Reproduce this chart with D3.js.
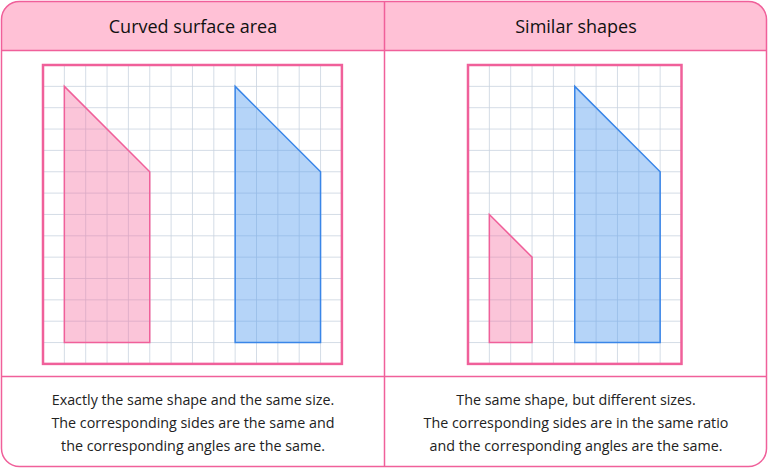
<!DOCTYPE html>
<html><head><meta charset="utf-8">
<script src="https://cdn.jsdelivr.net/npm/d3@7"></script>
<style>body{margin:0;background:#fff}svg{display:block;font-family:"Open Sans","Noto Sans",sans-serif}</style>
</head><body><svg id="c" width="768" height="469"></svg>
<script>
// panel titles and captions
const titles = ['Curved surface area', 'Similar shapes'];
const captions = [
  ['Exactly the same shape and the same size.', 'The corresponding sides are the same and', 'the corresponding angles are the same.'],
  ['The same shape, but different sizes.', 'The corresponding sides are in the same ratio', 'and the corresponding angles are the same.']
];
// grid size per panel (cols, rows)
const gridCols = [14, 10];
const gridRows = 14;
// shapes in grid units: [x,y] vertices
const shapes = [
  [{color: 'pink', pts: [[1,1],[5,5],[5,13],[1,13]]},
   {color: 'blue', pts: [[9,1],[13,5],[13,13],[9,13]]}],
  [{color: 'pink', pts: [[1,7],[3,9],[3,13],[1,13]]},
   {color: 'blue', pts: [[5,1],[9,5],[9,13],[5,13]]}]
];
const pal = {
  pink: {fill: 'rgba(245,110,160,0.4)', stroke: '#f0609a'},
  blue: {fill: 'rgba(90,160,240,0.45)', stroke: '#3a86e8'}
};
const border = '#f0609a';
const svg = d3.select('#c');

svg.append('path')
  .attr('d', 'M1.5,50 L1.5,20 Q1.5,1.5 20,1.5 L748,1.5 Q766.5,1.5 766.5,20 L766.5,50 Z')
  .attr('fill', '#ffc1d6');
svg.append('rect').attr('x', 1.5).attr('y', 1.5).attr('width', 765).attr('height', 465)
  .attr('rx', 18).attr('fill', 'none').attr('stroke', border).attr('stroke-width', 1.5);
[[1.5,50.5,766.5,50.5],[1.5,376.5,766.5,376.5],[384.5,1.5,384.5,466.5]].forEach(l =>
  svg.append('line').attr('x1', l[0]).attr('y1', l[1]).attr('x2', l[2]).attr('y2', l[3])
    .attr('stroke', border).attr('stroke-width', 1.5));

const gridX0 = [43, 468];
const cell = 21.35;
const gy0 = 65;

titles.forEach((t, i) => {
  const cx = i === 0 ? 193 : 576;
  svg.append('text').attr('x', cx).attr('y', 33).attr('text-anchor', 'middle')
    .attr('font-size', 18).attr('fill', '#111').text(t);
  captions[i].forEach((s, j) =>
    svg.append('text').attr('x', cx).attr('y', 405 + j * 23).attr('text-anchor', 'middle')
      .attr('font-size', 14.3).attr('fill', '#222').text(s));

  const x = d3.scaleLinear().domain([0, gridCols[i]]).range([gridX0[i], gridX0[i] + gridCols[i] * cell]);
  const y = d3.scaleLinear().domain([0, gridRows]).range([gy0, gy0 + gridRows * cell]);
  const g = svg.append('g');
  g.selectAll('.v').data(d3.range(1, gridCols[i])).join('line')
    .attr('x1', d => x(d)).attr('x2', d => x(d)).attr('y1', y(0)).attr('y2', y(gridRows))
    .attr('stroke', '#c9d3df').attr('stroke-width', 0.8);
  g.selectAll('.h').data(d3.range(1, gridRows)).join('line')
    .attr('y1', d => y(d)).attr('y2', d => y(d)).attr('x1', x(0)).attr('x2', x(gridCols[i]))
    .attr('stroke', '#c9d3df').attr('stroke-width', 0.8);
  shapes[i].forEach(s =>
    g.append('polygon').attr('points', s.pts.map(p => [x(p[0]), y(p[1])].join(',')).join(' '))
      .attr('fill', pal[s.color].fill).attr('stroke', pal[s.color].stroke).attr('stroke-width', 1.5));
  g.append('rect').attr('x', x(0)).attr('y', y(0)).attr('width', x(gridCols[i]) - x(0))
    .attr('height', y(gridRows) - y(0)).attr('fill', 'none').attr('stroke', border).attr('stroke-width', 2.5);
});
</script></body></html>
